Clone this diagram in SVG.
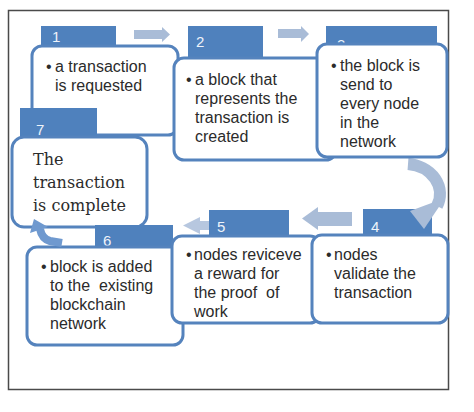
<svg xmlns="http://www.w3.org/2000/svg" width="474" height="412" viewBox="0 0 474 412">
<style>
.tab{fill:#4f81bd}
.box{fill:#ffffff;stroke:#5583bd;stroke-width:3}
.num{font-family:"Liberation Sans","Open Sans",sans-serif;font-size:15px;fill:#eef3fa}
.t{font-family:"Liberation Sans","Open Sans",sans-serif;font-size:16px;fill:#2b2b2b;white-space:pre}
.s{font-family:"DejaVu Serif","Liberation Serif",serif;font-size:16px;fill:#2b2b2b}
.arr{fill:#a9bcd7}
</style>
<rect x="8.5" y="10.5" width="440" height="379" fill="#ffffff" stroke="#4a4a4a" stroke-width="1.5"/>
<g id="connectors">
  <polygon class="arr" points="134,30 162,30 162,27 170,34.5 162,42 162,39 134,39"/>
  <polygon class="arr" points="278,29 301,29 301,26 309,34 301,42 301,38 278,38"/>
  <path d="M 408 164 A 35 30 0 0 1 437 206" fill="none" stroke="#a9bcd7" stroke-width="12"/>
  <polygon class="arr" points="352,212 318,212 318,207 302,218.5 318,230 318,226 352,226"/>
  <polygon fill="#b7c7df" points="215,221 200,221 200,217 183,225.5 200,234 200,230 215,230"/>
</g>
<g id="node1">
  <rect class="tab" x="41" y="26" width="75" height="24"/>
  <text class="num" x="52" y="42">1</text>
  <rect class="box" x="32" y="46" width="146" height="89" rx="10"/>
  <text class="t"><tspan x="46" y="72">•</tspan><tspan x="55" y="72">a transaction</tspan><tspan x="55" y="91">is requested</tspan></text>
</g>
<g id="node2">
  <rect class="tab" x="188" y="26" width="75" height="34"/>
  <text class="num" x="196" y="47">2</text>
  <rect class="box" x="174" y="58" width="162" height="102" rx="10"/>
  <text class="t"><tspan x="186" y="85">•</tspan><tspan x="195" y="85">a block that</tspan><tspan x="195" y="104">represents the</tspan><tspan x="195" y="123">transaction is</tspan><tspan x="195" y="142">created</tspan></text>
</g>
<g id="node3">
  <rect class="tab" x="326" y="26" width="111" height="20"/>
  <text class="num" x="337" y="50">3</text>
  <rect class="box" x="317" y="44" width="130" height="113" rx="10"/>
  <text class="t"><tspan x="331" y="71">•</tspan><tspan x="340" y="71">the block is</tspan><tspan x="340" y="90">send to</tspan><tspan x="340" y="109">every node</tspan><tspan x="340" y="128">in the</tspan><tspan x="340" y="147">network</tspan></text>
</g>
<g id="node7">
  <rect class="tab" x="20" y="108" width="77" height="32"/>
  <text class="num" x="36" y="135">7</text>
  <rect class="box" x="12" y="137" width="135" height="90" rx="12"/>
  <text class="s"><tspan x="33" y="165">The</tspan><tspan x="33" y="188">transaction</tspan><tspan x="33" y="211">is complete</tspan></text>
</g>
<g id="node6">
  <rect class="tab" x="95" y="225" width="78" height="24"/>
  <text class="num" x="103" y="246">6</text>
  <rect class="box" x="27" y="247" width="156" height="98" rx="10"/>
  <text class="t"><tspan x="41" y="272">•</tspan><tspan x="50" y="272">block is added</tspan><tspan x="50" y="291">to the  existing</tspan><tspan x="50" y="310">blockchain</tspan><tspan x="50" y="329">network</tspan></text>
</g>
<g id="node5">
  <rect class="tab" x="209" y="210" width="80" height="28"/>
  <text class="num" x="217" y="232">5</text>
  <rect class="box" x="172" y="236" width="148" height="87" rx="10"/>
  <text class="t"><tspan x="186" y="260">•</tspan><tspan x="194" y="260">nodes reviceve</tspan><tspan x="194" y="279">a reward for</tspan><tspan x="194" y="298">the proof  of</tspan><tspan x="194" y="317">work</tspan></text>
</g>
<g id="node4">
  <rect class="tab" x="363" y="209" width="69" height="28"/>
  <text class="num" x="371" y="232">4</text>
  <rect class="box" x="312" y="235" width="136" height="88" rx="10"/>
  <text class="t"><tspan x="326" y="260">•</tspan><tspan x="334" y="260">nodes</tspan><tspan x="334" y="279">validate the</tspan><tspan x="334" y="298">transaction</tspan></text>
</g>
<g id="connectors-front">
  <polygon class="arr" points="410,211 445,198 424,229"/>
  <path d="M 62 243 L 50 241 Q 42 239 40 229" fill="none" stroke="#6f99cf" stroke-width="8"/>
  <polygon fill="#6f99cf" points="30,233 48,227 34,219"/>
</g>
</svg>
